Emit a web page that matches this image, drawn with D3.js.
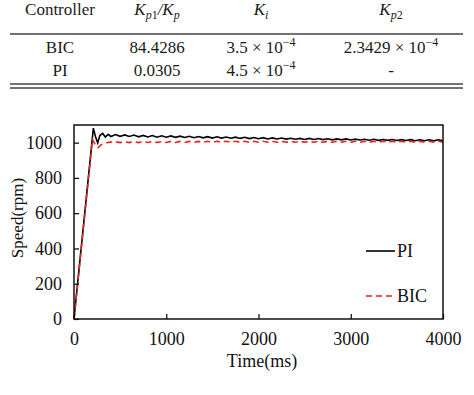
<!DOCTYPE html>
<html>
<head>
<meta charset="utf-8">
<script src="https://cdn.jsdelivr.net/npm/d3@7"></script>
<style>
  html, body { margin: 0; padding: 0; background: #fff; }
  svg text, svg tspan { font-family: "Liberation Serif", "Times New Roman", serif; }
</style>
</head>
<body>
<div id="chart"></div>
<script>
// Table rows
const tableRows = [
  { name: "BIC", kp: "84.4286", ki: "3.5", kp2: "2.3429" },
  { name: "PI", kp: "0.0305", ki: "4.5", kp2: null }
];

// Axis ticks
const xTicks = [0, 1000, 2000, 3000, 4000];
const yTicks = [0, 200, 400, 600, 800, 1000];

// PI response (time ms, speed rpm)
const piTime = [0, 210, 235, 257, 280, 310, 340, 370, 400,
  450, 500, 550, 600, 650, 700, 750, 800, 850, 900, 950, 1000,
  1050, 1100, 1150, 1200, 1250, 1300, 1350, 1400, 1450, 1500,
  1550, 1600, 1650, 1700, 1750, 1800, 1850, 1900, 1950, 2000,
  2050, 2100, 2150, 2200, 2250, 2300, 2350, 2400, 2450, 2500,
  2550, 2600, 2650, 2700, 2750, 2800, 2850, 2900, 2950, 3000,
  3050, 3100, 3150, 3200, 3250, 3300, 3350, 3400, 3450, 3500,
  3550, 3600, 3650, 3700, 3750, 3800, 3850, 3900, 3950, 4000];
const piSpeed = [0, 1082, 1030, 998, 1040, 1052, 1032, 1047, 1035,
  1046, 1036, 1044, 1035, 1043, 1033, 1041, 1032, 1040, 1031, 1039, 1031,
  1038, 1030, 1037, 1029, 1036, 1028, 1035, 1027, 1034, 1026,
  1033, 1026, 1032, 1025, 1031, 1024, 1030, 1023, 1029, 1022,
  1028, 1021, 1027, 1021, 1026, 1020, 1025, 1019, 1024, 1018,
  1024, 1018, 1023, 1017, 1022, 1016, 1021, 1016, 1021, 1015,
  1020, 1015, 1019, 1014, 1019, 1013, 1018, 1013, 1018, 1012,
  1017, 1012, 1017, 1011, 1016, 1011, 1016, 1010, 1016, 1010];

// BIC response (time ms, speed rpm)
const bicTime = [0, 200, 230, 260, 300, 350, 400,
  450, 500, 550, 600, 650, 700, 750, 800, 850, 900, 950, 1000,
  1050, 1100, 1150, 1200, 1250, 1300, 1350, 1400, 1450, 1500,
  1550, 1600, 1650, 1700, 1750, 1800, 1850, 1900, 1950, 2000,
  2050, 2100, 2150, 2200, 2250, 2300, 2350, 2400, 2450, 2500,
  2550, 2600, 2650, 2700, 2750, 2800, 2850, 2900, 2950, 3000,
  3050, 3100, 3150, 3200, 3250, 3300, 3350, 3400, 3450, 3500,
  3550, 3600, 3650, 3700, 3750, 3800, 3850, 3900, 3950, 4000];
const bicSpeed = [0, 1018, 990, 972, 990, 999, 1003,
  1005, 1000, 1005, 1000, 1006, 1000, 1006, 1001, 1006, 1001, 1006, 1001,
  1007, 1001, 1007, 1001, 1007, 1002, 1007, 1002, 1008, 1002,
  1008, 1002, 1008, 1002, 1008, 1002, 1008, 1002, 1008, 1002,
  1008, 1002, 1008, 1002, 1008, 1002, 1008, 1002, 1008, 1002,
  1008, 1002, 1008, 1002, 1008, 1002, 1008, 1002, 1008, 1002,
  1008, 1002, 1008, 1002, 1008, 1002, 1008, 1002, 1008, 1002,
  1008, 1002, 1008, 1002, 1008, 1002, 1008, 1002, 1008, 1002];

const width = 474, height = 395;
const serif = "'Liberation Serif', 'Times New Roman', serif";
const svg = d3.select("#chart").append("svg")
  .attr("width", width).attr("height", height)
  .attr("font-family", serif);

// ---------- Table ----------
const colX = [60, 157, 261, 391];
const tbl = svg.append("g").attr("font-family", serif)
  .style("font-size", "17px").attr("fill", "#1a1a1a");

// parts: [text, italic, small, dy]
function mathText(g, x, y, parts) {
  const t = g.append("text").attr("x", x).attr("y", y)
    .attr("text-anchor", "middle").style("font-family", serif);
  parts.forEach(p => {
    const ts = t.append("tspan").text(p[0]);
    if (p[1]) ts.style("font-style", "italic");
    if (p[2]) ts.style("font-size", "12px");
    if (p[3]) ts.attr("dy", p[3]);
  });
  return t;
}

function plain(g, x, y, s) {
  return g.append("text").attr("x", x).attr("y", y)
    .attr("text-anchor", "middle").style("font-family", serif).text(s);
}

plain(tbl, colX[0], 15, "Controller");
mathText(tbl, colX[1], 15, [["K", true, false, 0], ["p", true, true, 4], ["1", false, true, 0], ["/K", true, false, -4], ["p", true, true, 4]]);
mathText(tbl, colX[2], 15, [["K", true, false, 0], ["i", true, true, 4]]);
mathText(tbl, colX[3], 15, [["K", true, false, 0], ["p", true, true, 4], ["2", false, true, 0]]);

[34, 84, 88].forEach(yy => tbl.append("line").attr("x1", 10).attr("x2", 463)
  .attr("y1", yy).attr("y2", yy).attr("stroke", "#444").attr("stroke-width", 1.3));

function sci(g, x, y, mant) {
  mathText(g, x, y, [[mant + " \u00d7 10", false, false, 0], ["\u22124", false, true, -7]]);
}

tableRows.forEach((r, i) => {
  const yy = 53 + i * 23;
  plain(tbl, colX[0], yy, r.name);
  plain(tbl, colX[1], yy, r.kp);
  sci(tbl, colX[2], yy, r.ki);
  if (r.kp2) sci(tbl, colX[3], yy, r.kp2);
  else plain(tbl, colX[3], yy, "-");
});

// ---------- Chart ----------
const m = { left: 74, right: 443, top: 125, bottom: 319 };
const x = d3.scaleLinear().domain([0, 4000]).range([m.left, m.right]);
const y = d3.scaleLinear().domain([0, 1100]).range([m.bottom, m.top]);

const chart = svg.append("g");

const line = d3.line().x(d => x(d[0])).y(d => y(d[1]));
const piData = piTime.map((t, i) => [t, piSpeed[i]]);
const bicData = bicTime.map((t, i) => [t, bicSpeed[i]]);

chart.append("path").datum(piData).attr("d", line)
  .attr("fill", "none").attr("stroke", "#000").attr("stroke-width", 1.6);
chart.append("path").datum(bicData).attr("d", line)
  .attr("fill", "none").attr("stroke", "#e8201e").attr("stroke-width", 1.6)
  .attr("stroke-dasharray", "6,4");

// Axes (inward ticks)
const xAxis = d3.axisBottom(x).tickValues(xTicks).tickFormat(d3.format("d"))
  .tickSizeInner(-5).tickSizeOuter(0).tickPadding(13);
const yAxis = d3.axisLeft(y).tickValues(yTicks).tickFormat(d3.format("d"))
  .tickSizeInner(-5).tickSizeOuter(0).tickPadding(12);

const gx = chart.append("g").attr("transform", `translate(0,${m.bottom})`).call(xAxis);
const gy = chart.append("g").attr("transform", `translate(${m.left},0)`).call(yAxis);
[gx, gy].forEach(g => {
  g.attr("font-family", serif);
  g.select(".domain").remove();
  g.selectAll(".tick line").attr("stroke", "#000").attr("stroke-width", 1.2);
  g.selectAll(".tick text").style("font-size", "18px").attr("fill", "#111");
});

// Box frame
chart.append("rect").attr("x", m.left).attr("y", m.top)
  .attr("width", m.right - m.left).attr("height", m.bottom - m.top)
  .attr("fill", "none").attr("stroke", "#111").attr("stroke-width", 1.5);

// Axis labels
chart.append("text").attr("x", 262).attr("y", 367).attr("text-anchor", "middle")
  .style("font-size", "18px").attr("fill", "#111").text("Time(ms)");
chart.append("text").attr("transform", "translate(23,218) rotate(-90)")
  .attr("text-anchor", "middle").style("font-size", "17px").attr("fill", "#111").text("Speed(rpm)");

// Legend
const legend = [
  { name: "PI", color: "#000", dash: null, y: 251 },
  { name: "BIC", color: "#e8201e", dash: "6,4", y: 296 }
];
legend.forEach(l => {
  chart.append("line").attr("x1", 366).attr("x2", 395).attr("y1", l.y).attr("y2", l.y)
    .attr("stroke", l.color).attr("stroke-width", 1.6).attr("stroke-dasharray", l.dash);
  chart.append("text").attr("x", 397).attr("y", l.y + 6).style("font-size", "18px")
    .attr("fill", "#111").text(l.name);
});
</script>
</body>
</html>
